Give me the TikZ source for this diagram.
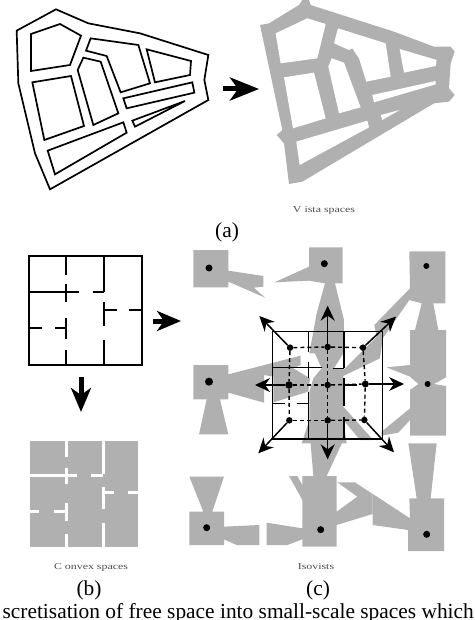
\documentclass[tikz,border=0pt]{standalone}
\usepackage{fontspec}
\setmainfont{Liberation Serif}
\usetikzlibrary{arrows.meta}
\definecolor{gr}{RGB}{176,176,176}
\tikzset{
 x=1pt,y=-1pt,
 zoomed/.style={x=0.33333pt,y=-0.33333pt},
 wall/.style={line width=1.7pt,black},
 thinwall/.style={line width=1.4pt,black},
 whitewall/.style={line width=3pt,white},
 gfill/.style={fill=gr,draw=none},
 hole/.style={fill=white,draw=none},
 block/.style={draw=black,line width=1.7pt,fill=white,line join=miter},
 dot/.style={circle,fill=black,inner sep=0pt,minimum size=#1},
 griddash/.style={line width=1.4pt,dash pattern=on 4pt off 3pt},
 radial/.style={line width=1.5pt,-{Stealth[length=15pt,width=14pt,inset=5pt]}},
 bigarrow/.style={line width=5pt,-{Stealth[length=24pt,width=20pt,inset=7pt]}},
 bigarrowa/.style={line width=5pt,-{Stealth[length=29pt,width=23pt,inset=8pt]}},
 caplabel/.style={inner sep=0pt,font=\fontsize{21.4}{24}\selectfont},
 smalllabel/.style={inner sep=0pt,font=\fontsize{9}{10}\selectfont,text=black!70,xscale=1.32,transform shape},
}
\begin{document}
\begin{tikzpicture}
\useasboundingbox (0,0) rectangle (474,620);
% (a) street map
\begin{scope}[zoomed]
\draw[block] (50,92)--(168,28)--(265,70)--(420,100)--(625,165)--(613,240)--(625,300)--(150,568)--(105,460)--(55,250)--cycle;
\draw[block] (93,102)--(180,72)--(243,107)--(210,195)--(93,213)--cycle;
\draw[block] (272,115)--(415,135)--(450,250)--(362,277)--(320,168)--(258,152)--cycle;
\draw[block] (440,148)--(573,183)--(570,225)--(465,247)--cycle;
\draw[block] (97,247)--(213,228)--(252,378)--(133,420)--cycle;
\draw[block] (250,173)--(302,185)--(355,340)--(280,375)--(233,210)--cycle;
\draw[block] (370,295)--(577,247)--(583,278)--(380,325)--cycle;
\draw[block] (397,362)--(555,303)--(405,380)--cycle;
\draw[block] (143,452)--(370,367)--(380,398)--(165,523)--cycle;
\end{scope}
% vista spaces
\begin{scope}[xshift=234pt,zoomed]
\fill[gfill] (78,75)--(105,70)--(195,15)--(205,0)--(225,0)--(230,15)--(480,95)--(600,140)--(650,140)--(662,155)--(650,190)--(645,265)--(662,285)--(645,305)--(600,310)--(205,545)--(165,552)--(150,430)--(128,405)--(145,390)--cycle;
\fill[hole] (125,100)--(220,55)--(275,72)--(250,175)--(140,190)--cycle;
\fill[hole] (312,85)--(455,130)--(470,230)--(397,245)--(375,175)--(355,145)--(345,150)--(300,130)--cycle;
\fill[hole] (497,147)--(608,180)--(605,198)--(510,218)--cycle;
\fill[hole] (150,232)--(240,218)--(275,355)--(177,385)--cycle;
\fill[hole] (293,175)--(330,188)--(380,322)--(315,340)--(283,200)--cycle;
\fill[hole] (415,285)--(605,243)--(605,253)--(420,307)--cycle;
\fill[hole] (440,345)--(497,330)--(445,360)--cycle;
\fill[hole] (187,425)--(400,362)--(405,382)--(197,495)--cycle;
\end{scope}
\coordinate (a1) at (223,89);
\coordinate (a2) at (259,89);
\draw[bigarrowa] (a1)--(a2);
\node[smalllabel] (lv) at (324,210) {V ista spaces};
\node[caplabel] (la) at (227,232) {(a)};
% (b) plan
\begin{scope}[yshift=-240pt,zoomed]
\draw[wall] (88,47) rectangle (425,375);
\foreach \a/\b in {47/105,133/185,235/298,330/375}{\draw[wall] (199,\a)--(199,\b);}
\foreach \a/\b in {47/155,187/257,300/375}{\draw[wall] (311,\a)--(311,\b);}
\foreach \y/\a/\b in {155/88/238,155/278/311,210/311/350,210/388/425,265/88/125,265/165/199}{\draw[wall] (\a,\y)--(\b,\y);}
\end{scope}
\coordinate (b1) at (153,321);
\coordinate (b2) at (181,321);
\coordinate (b3) at (81,377);
\coordinate (b4) at (81,412);
\draw[bigarrow] (b1)--(b2);
\draw[bigarrow] (b3)--(b4);
% convex spaces
\begin{scope}[yshift=-430pt,zoomed]
\fill[gfill] (90,32) rectangle (415,350);
\foreach \a/\b in {32/80,113/163,220/273,312/350}{\draw[whitewall] (199,\a)--(199,\b);}
\foreach \a/\b in {32/133,170/237,280/350}{\draw[whitewall] (309,\a)--(309,\b);}
\foreach \y/\a/\b in {135/90/232,135/273/309,188/309/343,188/383/415,243/90/117,243/163/199}{\draw[whitewall] (\a,\y)--(\b,\y);}
\end{scope}
\node[smalllabel] (lc) at (91,567) {C onvex spaces};
\node[caplabel] (lb) at (89,590) {(b)};
% (c) isovists upper
\begin{scope}[xshift=180pt,yshift=-240pt,zoomed]
\fill[gfill] (40,30)--(145,30)--(145,92)--(250,108)--(250,140)--(222,143)--(255,173)--(145,125)--(145,142)--(40,142)--cycle;
\fill[gfill] (387,22)--(488,22)--(488,130)--(465,130)--(492,240)--(490,340)--(462,385)--(490,385)--(490,500)--(580,600)--(540,600)--(490,540)--(500,610)--(365,610)--(388,540)--(388,455)--(400,415)--(425,385)--(405,340)--(388,340)--(410,220)--(435,130)--(387,122)--(283,127)--(387,80)--cycle;
\fill[gfill] (688,34)--(796,34)--(796,190)--(760,190)--(775,270)--(690,352)--(695,270)--(705,270)--(725,190)--(688,180)--(608,295)--(600,355)--(475,415)--(490,390)--(590,290)--(583,255)--(690,145)--cycle;
\fill[gfill] (690,270)--(798,270)--(798,412)--(762,432)--(798,438)--(798,587)--(690,587)--(690,540)--(655,578)--(605,587)--(605,575)--(690,505)--(690,450)--(715,432)--(690,410)--(620,382)--(690,375)--(690,352)--cycle;
\fill[gfill] (40,375)--(145,375)--(145,403)--(362,347)--(362,375)--(340,385)--(390,415)--(385,455)--(280,487)--(280,410)--(252,405)--(252,488)--(145,458)--(145,478)--(120,478)--(145,583)--(57,583)--(80,478)--(40,478)--cycle;
\end{scope}
% (c) isovists lower
\begin{scope}[xshift=180pt,yshift=-420pt,zoomed]
\fill[gfill] (327,168)--(352,168)--(367,195)--(367,168)--(400,168)--(390,50)--(495,50)--(440,168)--(470,168)--(470,275)--(532,230)--(472,187)--(525,187)--(578,225)--(578,282)--(470,315)--(470,380)--(367,380)--(367,358)--(322,375)--(260,375)--(260,308)--(367,325)--(367,240)--cycle;
\fill[gfill] (525,187)--(690,295)--(688,235)--(710,235)--(685,70)--(770,70)--(752,235)--(792,235)--(792,393)--(684,393)--(684,330)--(578,315)--(578,225)--cycle;
\fill[gfill] (28,275)--(70,275)--(28,170)--(132,170)--(97,275)--(132,275)--(132,320)--(238,315)--(238,375)--(170,375)--(132,358)--(132,375)--(28,375)--cycle;
\node[dot=7pt] (d6) at (80,323) {};
\node[dot=7pt] (d7) at (422,329) {};
\node[dot=7pt] (d8) at (740,343) {};
\end{scope}
% grid overlay
\begin{scope}[xshift=180pt,yshift=-240pt,zoomed]
\node[dot=7pt] (d1) at (87,84) {};
\node[dot=7pt] (d2) at (433,71) {};
\node[dot=6pt] (d3) at (739,78) {};
\node[dot=8pt] (d4) at (87,425) {};
\node[dot=6pt] (d5) at (743,432) {};
\draw[thinwall] (278,275) rectangle (608,597);
\foreach \a/\b in {275/335,365/415,455/597}{\draw[thinwall] (385,\a)--(385,\b);}
\foreach \a/\b in {275/385,415/497,530/597}{\draw[thinwall] (492,\a)--(492,\b);}
\foreach \y/\a/\b in {382/278/425,385/458/492,435/490/530,490/278/315,490/350/388}{\draw[thinwall] (\a,\y)--(\b,\y);}
\node[dot=6.5pt] (g11) at (330,323) {};
\node[dot=6.5pt] (g12) at (443,321) {};
\node[dot=6.5pt] (g13) at (549,323) {};
\node[dot=7.5pt] (g21) at (327,435) {};
\node[dot=6.5pt] (g22) at (443,435) {};
\node[dot=7pt] (g23) at (556,432) {};
\node[dot=6.5pt] (g31) at (328,541) {};
\node[dot=6.5pt] (g32) at (443,541) {};
\node[dot=6.5pt] (g33) at (553,540) {};
\foreach \p/\q in {g11/g12,g12/g13,g21/g22,g22/g23,g31/g32,g32/g33,g11/g21,g21/g31,g12/g22,g22/g32,g13/g23,g23/g33}{\draw[griddash] (\p)--(\q);}
\coordinate (e11) at (238,228);
\coordinate (e12) at (443,197);
\coordinate (e13) at (648,230);
\coordinate (e21) at (225,435);
\coordinate (e23) at (672,432);
\coordinate (e31) at (235,640);
\coordinate (e32) at (443,658);
\coordinate (e33) at (642,637);
\foreach \p/\q in {g11/e11,g12/e12,g13/e13,g21/e21,g23/e23,g31/e31,g32/e32,g33/e33}{\draw[radial] (\p)--(\q);}
\end{scope}
\node[smalllabel] (li) at (316,567) {Isovists};
\node[caplabel] (lcc) at (318,590) {(c)};
\node[anchor=base east,inner sep=0pt,font=\fontsize{21.4}{24}\selectfont] (cap) at (474,618) {scretisation of free space into small-scale spaces which};
\end{tikzpicture}
\end{document}
